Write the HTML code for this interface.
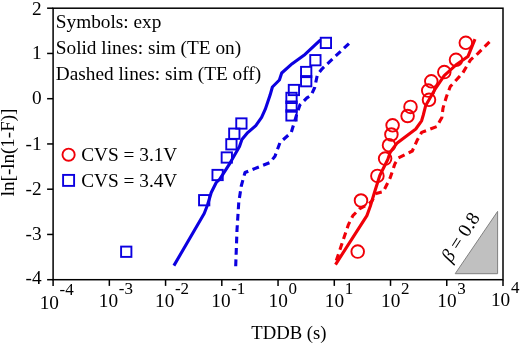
<!DOCTYPE html>
<html><head><meta charset="utf-8"><title>TDDB Weibull plot</title>
<style>
html,body{margin:0;padding:0;background:#fff;}
svg{display:block;}
text{font-family:"Liberation Serif","Times New Roman",serif;fill:#000;}
</style></head><body>
<svg width="520" height="344" viewBox="0 0 520 344">
<rect x="0" y="0" width="520" height="344" fill="#fff"/>

<polygon points="455.2,273.7 497.6,273.7 497.6,211.4" fill="#c0c0c0" stroke="#808080" stroke-width="1"/>
<rect x="53.1" y="8.2" width="449.90" height="271.50" fill="none" stroke="#000" stroke-width="1.5"/>
<line x1="47.10" y1="279.70" x2="53.1" y2="279.70" stroke="#000" stroke-width="1.5"/>
<text x="41.6" y="283.70" font-size="19.3" text-anchor="end">-4</text>
<line x1="47.10" y1="234.45" x2="53.1" y2="234.45" stroke="#000" stroke-width="1.5"/>
<text x="41.6" y="239.65" font-size="19.3" text-anchor="end">-3</text>
<line x1="47.10" y1="189.20" x2="53.1" y2="189.20" stroke="#000" stroke-width="1.5"/>
<text x="41.6" y="195.40" font-size="19.3" text-anchor="end">-2</text>
<line x1="47.10" y1="143.95" x2="53.1" y2="143.95" stroke="#000" stroke-width="1.5"/>
<text x="41.6" y="149.65" font-size="19.3" text-anchor="end">-1</text>
<line x1="47.10" y1="98.70" x2="53.1" y2="98.70" stroke="#000" stroke-width="1.5"/>
<text x="41.6" y="103.70" font-size="19.3" text-anchor="end">0</text>
<line x1="47.10" y1="53.45" x2="53.1" y2="53.45" stroke="#000" stroke-width="1.5"/>
<text x="41.6" y="58.75" font-size="19.3" text-anchor="end">1</text>
<line x1="47.10" y1="8.20" x2="53.1" y2="8.20" stroke="#000" stroke-width="1.5"/>
<text x="41.6" y="14.70" font-size="19.3" text-anchor="end">2</text>
<line x1="53.10" y1="279.7" x2="53.10" y2="285.9" stroke="#000" stroke-width="1.5"/>
<text x="39.70" y="308.5" font-size="19.3">10<tspan dx="0.6" dy="-13.1" font-size="17">-4</tspan></text>
<line x1="109.34" y1="279.7" x2="109.34" y2="285.9" stroke="#000" stroke-width="1.5"/>
<text x="98.84" y="307.3" font-size="19.3">10<tspan dx="0.6" dy="-13.1" font-size="17">-3</tspan></text>
<line x1="165.57" y1="279.7" x2="165.57" y2="285.9" stroke="#000" stroke-width="1.5"/>
<text x="155.07" y="307.3" font-size="19.3">10<tspan dx="0.6" dy="-13.1" font-size="17">-2</tspan></text>
<line x1="221.81" y1="279.7" x2="221.81" y2="285.9" stroke="#000" stroke-width="1.5"/>
<text x="211.31" y="307.3" font-size="19.3">10<tspan dx="0.6" dy="-13.1" font-size="17">-1</tspan></text>
<line x1="278.05" y1="279.7" x2="278.05" y2="285.9" stroke="#000" stroke-width="1.5"/>
<text x="268.55" y="307.3" font-size="19.3">10<tspan dx="0.6" dy="-13.1" font-size="17">0</tspan></text>
<line x1="334.29" y1="279.7" x2="334.29" y2="285.9" stroke="#000" stroke-width="1.5"/>
<text x="324.79" y="307.3" font-size="19.3">10<tspan dx="0.6" dy="-13.1" font-size="17">1</tspan></text>
<line x1="390.52" y1="279.7" x2="390.52" y2="285.9" stroke="#000" stroke-width="1.5"/>
<text x="381.02" y="307.3" font-size="19.3">10<tspan dx="0.6" dy="-13.1" font-size="17">2</tspan></text>
<line x1="446.76" y1="279.7" x2="446.76" y2="285.9" stroke="#000" stroke-width="1.5"/>
<text x="437.26" y="307.3" font-size="19.3">10<tspan dx="0.6" dy="-13.1" font-size="17">3</tspan></text>
<line x1="503.00" y1="279.7" x2="503.00" y2="285.9" stroke="#000" stroke-width="1.5"/>
<text x="490.90" y="306.2" font-size="19.3">10<tspan dx="0.8" dy="-13.3" font-size="17">4</tspan></text>
<text x="251.3" y="338.6" font-size="18.7">TDDB (s)</text>
<text transform="translate(14.3,196.2) rotate(-90)" font-size="19">ln[-ln(1-F)]</text>
<text x="55.8" y="27.9" font-size="19.3">Symbols: exp</text>
<text x="55.8" y="53.9" font-size="19.3">Solid lines: sim (TE on)</text>
<text x="55.8" y="79.6" font-size="19.3">Dashed lines: sim (TE off)</text>
<text x="81.25" y="161.25" font-size="19.3">CVS = 3.1V</text>
<text x="81.25" y="187" font-size="19.3">CVS = 3.4V</text>
<text transform="translate(451,263.2) rotate(-57)" font-size="19.3"><tspan font-style="italic">β</tspan> = 0.8</text>
<circle cx="68.6" cy="154.7" r="6.1" fill="none" stroke="#f00008" stroke-width="1.9"/>
<rect x="63.099999999999994" y="174.9" width="11" height="11" fill="none" stroke="#0c00e0" stroke-width="1.9"/>
<polyline points="173.9,265.6 204.2,213.5 207.5,205 211.25,192.5 216.25,182.5 219.8,179.1 230.2,162.8 239.5,146.5 241.9,139.5 247.7,132.6 255.8,125.6 261.6,117.4 265.3,109.2 270.1,95.1 272.4,87 279.4,80 281.7,73 292.2,63.7 305,54.4 320.5,39.8" fill="none" stroke="#0c00e0" stroke-width="3.1" stroke-linejoin="round"/>
<polyline points="235.7,266.2 237,230 238.75,202.5 241.25,186 245,172.5 270,162.5 275,156.25 280,142.5 291.25,132.5 296.4,115.4 299.9,104.9 306.9,97.9 311.2,95.3 314.7,87.5 317.4,74.7 322.1,68.8 351.2,41.4" fill="none" stroke="#0c00e0" stroke-width="3.1" stroke-linejoin="round" stroke-dasharray="6.8 4.6"/>
<polyline points="335.5,264.6 366.9,215.6 370.3,206.3 374,194 379.8,175.5 387.9,159.2 390.2,152.2 397.2,142.9 415.8,129 421.6,120.8 423.3,115 425.6,105.8 434.9,89.5 444.2,75.6 455.8,65.1 467.9,56.6 475,39.2" fill="none" stroke="#f00008" stroke-width="3.1" stroke-linejoin="round"/>
<polyline points="336.3,260.6 343.6,238.8 348.3,224.9 352.9,215.6 359.9,208.6 366.9,205.1 371.5,201.6 376.2,193.5 383.3,191.7 390.2,177.8 394.9,163.8 398.4,158 412.3,151 417,140.6 421.6,132.4 436.7,126.6 440,120.8 441.9,117.4 443,108.1 446.5,96.5 450.3,86.5 453.1,83.5 462.7,73 467.9,64.3 470.5,59.9 477.5,53.8 492,39.3" fill="none" stroke="#f00008" stroke-width="3.1" stroke-linejoin="round" stroke-dasharray="6.8 4.6"/>
<rect x="121.10" y="246.60" width="10.3" height="10.3" fill="none" stroke="#0c00e0" stroke-width="1.9"/>
<rect x="199.05" y="195.05" width="10.3" height="10.3" fill="none" stroke="#0c00e0" stroke-width="1.9"/>
<rect x="212.45" y="169.85" width="10.3" height="10.3" fill="none" stroke="#0c00e0" stroke-width="1.9"/>
<rect x="221.65" y="152.35" width="10.3" height="10.3" fill="none" stroke="#0c00e0" stroke-width="1.9"/>
<rect x="226.25" y="139.15" width="10.3" height="10.3" fill="none" stroke="#0c00e0" stroke-width="1.9"/>
<rect x="229.15" y="128.55" width="10.3" height="10.3" fill="none" stroke="#0c00e0" stroke-width="1.9"/>
<rect x="236.25" y="118.35" width="10.3" height="10.3" fill="none" stroke="#0c00e0" stroke-width="1.9"/>
<rect x="286.35" y="110.25" width="10.3" height="10.3" fill="none" stroke="#0c00e0" stroke-width="1.9"/>
<rect x="286.35" y="101.45" width="10.3" height="10.3" fill="none" stroke="#0c00e0" stroke-width="1.9"/>
<rect x="286.35" y="92.75" width="10.3" height="10.3" fill="none" stroke="#0c00e0" stroke-width="1.9"/>
<rect x="288.75" y="84.85" width="10.3" height="10.3" fill="none" stroke="#0c00e0" stroke-width="1.9"/>
<rect x="301.05" y="76.05" width="10.3" height="10.3" fill="none" stroke="#0c00e0" stroke-width="1.9"/>
<rect x="301.05" y="66.85" width="10.3" height="10.3" fill="none" stroke="#0c00e0" stroke-width="1.9"/>
<rect x="310.25" y="55.05" width="10.3" height="10.3" fill="none" stroke="#0c00e0" stroke-width="1.9"/>
<rect x="320.75" y="37.75" width="10.3" height="10.3" fill="none" stroke="#0c00e0" stroke-width="1.9"/>
<circle cx="357.7" cy="251.6" r="6.3" fill="none" stroke="#f00008" stroke-width="1.9"/>
<circle cx="361" cy="200.5" r="6.3" fill="none" stroke="#f00008" stroke-width="1.9"/>
<circle cx="377.4" cy="175.9" r="6.3" fill="none" stroke="#f00008" stroke-width="1.9"/>
<circle cx="385.1" cy="158.6" r="6.3" fill="none" stroke="#f00008" stroke-width="1.9"/>
<circle cx="389" cy="145.2" r="6.3" fill="none" stroke="#f00008" stroke-width="1.9"/>
<circle cx="391.4" cy="134.5" r="6.3" fill="none" stroke="#f00008" stroke-width="1.9"/>
<circle cx="392.6" cy="125.3" r="6.3" fill="none" stroke="#f00008" stroke-width="1.9"/>
<circle cx="407.6" cy="116" r="6.3" fill="none" stroke="#f00008" stroke-width="1.9"/>
<circle cx="410.5" cy="106.9" r="6.3" fill="none" stroke="#f00008" stroke-width="1.9"/>
<circle cx="429" cy="99.8" r="6.3" fill="none" stroke="#f00008" stroke-width="1.9"/>
<circle cx="428.2" cy="90.6" r="6.3" fill="none" stroke="#f00008" stroke-width="1.9"/>
<circle cx="431.3" cy="81.3" r="6.3" fill="none" stroke="#f00008" stroke-width="1.9"/>
<circle cx="444.3" cy="72.1" r="6.3" fill="none" stroke="#f00008" stroke-width="1.9"/>
<circle cx="456" cy="59.8" r="6.3" fill="none" stroke="#f00008" stroke-width="1.9"/>
<circle cx="465.8" cy="42.8" r="6.3" fill="none" stroke="#f00008" stroke-width="1.9"/>
</svg></body></html>
